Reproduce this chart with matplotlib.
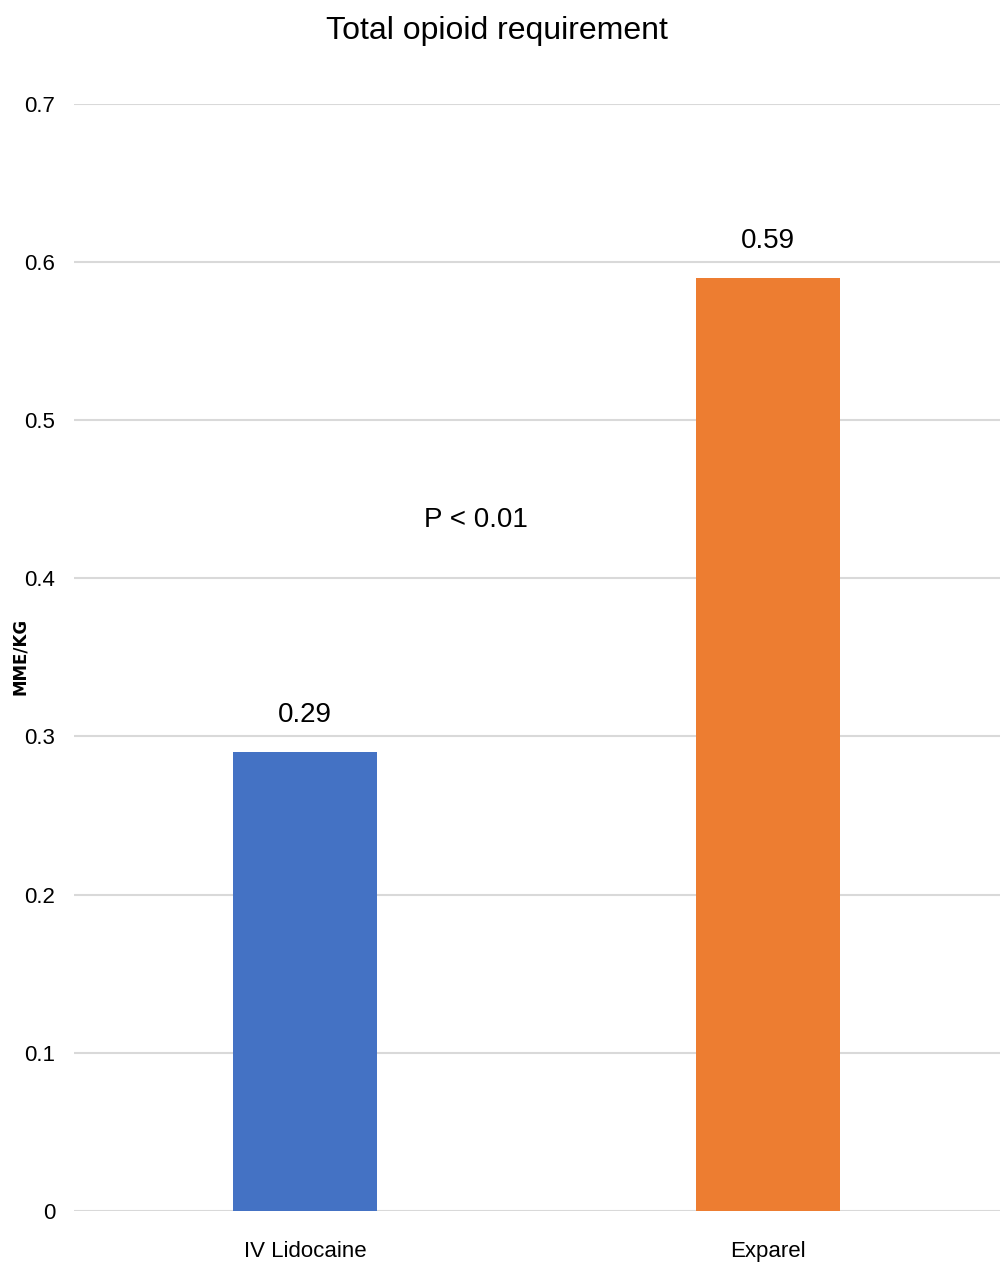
import matplotlib.pyplot as plt
from matplotlib import font_manager

names = {f.name for f in font_manager.fontManager.ttflist}
narrow = 'Liberation Sans Narrow' if 'Liberation Sans Narrow' in names else 'Liberation Sans'
plt.rcParams['font.family'] = [narrow, 'DejaVu Sans']

categories = ['IV Lidocaine', 'Exparel']
values = [0.29, 0.59]
colors = ['#4472c4', '#ed7d31']
yticks = [0, 0.1, 0.2, 0.3, 0.4, 0.5, 0.6, 0.7]

fig = plt.figure(figsize=(10, 12.8), dpi=100)
ax = fig.add_axes([0.0735, 0.054, 0.926, 0.865])

x = range(len(categories))
ax.bar(x, values, width=0.313, color=colors, zorder=3)
for xi, v in zip(x, values):
    ax.text(xi, v + 0.015, f'{v:.2f}', ha='center', va='bottom', fontsize=20)

ax.set_xlim(-0.5, 1.5)
ax.set_ylim(0, 0.7)
ax.set_yticks(yticks)
ax.set_yticklabels([f'{t:g}' for t in yticks], fontsize=16)
ax.set_xticks(list(x))
ax.set_xticklabels(categories, fontsize=16)
ax.tick_params(axis='both', length=0)
ax.tick_params(axis='y', pad=13)
ax.tick_params(axis='x', pad=22)
ax.grid(axis='y', color='#d9d9d9', linewidth=1.5, zorder=0)
for s in ax.spines.values():
    s.set_visible(False)

ax.text(0.37, 0.437, 'P < 0.01', ha='center', va='center', fontsize=20)
ax.set_ylabel('MME/KG', fontsize=12, fontweight='bold', family='DejaVu Sans')
ax.yaxis.set_label_coords(0.02, 0.5, transform=fig.transFigure)
ax.yaxis.label.set_va('center')
ax.yaxis.label.set_y(0.487)
fig.text(0.497, 0.976, 'Total opioid requirement', ha='center', va='center', fontsize=23)

fig.savefig('out.png', dpi=100, facecolor='white')
